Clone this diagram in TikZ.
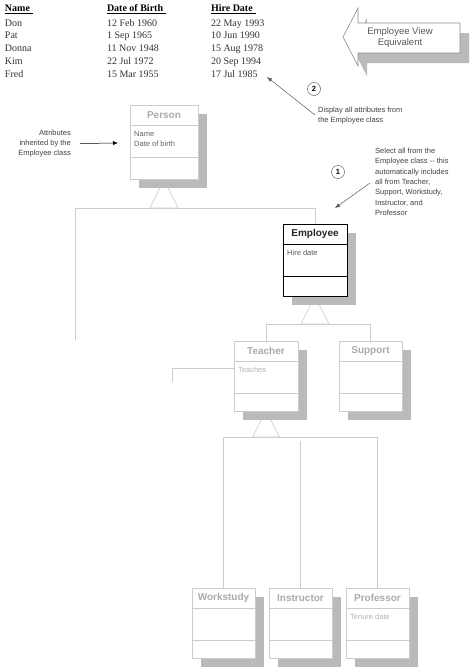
\documentclass[tikz,border=0pt]{standalone}
\usepackage{fontspec}
\setmainfont{Liberation Serif}
\setsansfont{Liberation Sans}
\usetikzlibrary{arrows.meta}
\pgfdeclarelayer{background}
\pgfsetlayers{background,main}

\tikzset{
 tabhead/.style={anchor=base west, inner sep=0pt, outer sep=0pt, font=\fontsize{10}{12}\selectfont\bfseries},
 tabcell/.style={anchor=base west, inner sep=0pt, outer sep=0pt, font=\fontsize{10}{12}\selectfont, text=black!80},
 shadowfill/.style={fill=black!27},
 litebox/.style={draw=black!20, fill=white, line width=0.6pt, inner sep=0pt, outer sep=0pt},
 liteline/.style={draw=black!20, line width=0.6pt},
 litetitle/.style={font=\sffamily\bfseries\fontsize{10}{12}\selectfont, text=black!33, inner sep=0pt},
 liteattr/.style={font=\sffamily\fontsize{7.5}{10}\selectfont, text=black!30, inner sep=0pt, align=left},
 persbox/.style={litebox},
 persline/.style={liteline},
 perstitle/.style={litetitle},
 persattr/.style={liteattr, text=black!62},
 empbox/.style={draw=black, fill=white, line width=0.8pt, inner sep=0pt, outer sep=0pt},
 empline/.style={draw=black, line width=0.8pt},
 emptitle/.style={font=\sffamily\bfseries\fontsize{10}{12}\selectfont, text=black!85, inner sep=0pt},
 empattr/.style={font=\sffamily\fontsize{7.5}{10}\selectfont, text=black!65, inner sep=0pt, align=left},
 inh/.style={draw=black!20, line width=0.6pt},
 note/.style={font=\sffamily\fontsize{7.5}{10.3}\selectfont, text=black!75, inner sep=0pt},
 pointer/.style={draw=black!65, line width=0.5pt, -{Latex[length=5pt,width=4pt]}},
 numcircle/.style={circle, draw=black!60, line width=0.5pt, minimum size=13pt, inner sep=0pt, font=\sffamily\bfseries\fontsize{7.5}{9}\selectfont},
}

% #1 name, #2 x, #3 y, #4 width, #5 height, #6 title, #7 attributes, #8 kind (lite/pers/emp)
\newcommand\umlbox[8]{%
 \fill[shadowfill] (#2+9,#3+9) rectangle (#2+#4+9,#3+#5+9);
 \node[#8box, anchor=north west, minimum width=#4pt, minimum height=#5pt] (#1) at (#2,#3) {};
 \draw[#8line] ([yshift=-20pt]#1.north west) -- ([yshift=-20pt]#1.north east);
 \draw[#8line] ([yshift=-52pt]#1.north west) -- ([yshift=-52pt]#1.north east);
 \node[#8title] (#1-title) at ([yshift=-10pt]#1.north) {#6};
 \node[#8attr, anchor=north west] (#1-attr) at ([xshift=4pt,yshift=-25.7pt]#1.north west) {#7};
}

\begin{document}
\begin{tikzpicture}[x=1pt,y=-1pt]
\useasboundingbox (0,0) rectangle (474,672);

% ---- table ----
\node[tabhead] (hname) at (5,11.6) {Name};
\node[tabhead] (hdob) at (107,11.6) {Date of Birth};
\node[tabhead] (hhire) at (211,11.6) {Hire Date};
\foreach \n in {hname,hdob,hhire}
  \draw[line width=0.6pt] ([yshift=-1.8pt]\n.base west) -- ([xshift=3pt,yshift=-1.8pt]\n.base east);

\node[tabcell] (n1) at (5,26) {Don};
\node[tabcell] (n2) at (5,38.8) {Pat};
\node[tabcell] (n3) at (5,51.6) {Donna};
\node[tabcell] (n4) at (5,64.4) {Kim};
\node[tabcell] (n5) at (5,77.2) {Fred};
\node[tabcell] (d1) at (107,26) {12 Feb 1960};
\node[tabcell] (d2) at (107,38.8) {1 Sep 1965};
\node[tabcell] (d3) at (107,51.6) {11 Nov 1948};
\node[tabcell] (d4) at (107,64.4) {22 Jul 1972};
\node[tabcell] (d5) at (107,77.2) {15 Mar 1955};
\node[tabcell] (h1) at (211,26) {22 May 1993};
\node[tabcell] (h2) at (211,38.8) {10 Jun 1990};
\node[tabcell] (h3) at (211,51.6) {15 Aug 1978};
\node[tabcell] (h4) at (211,64.4) {20 Sep 1994};
\node[tabcell] (h5) at (211,77.2) {17 Jul 1985};

% ---- big arrow ----
\begin{scope}[shift={(9,10)}]
 \fill[shadowfill] (343,37) -- (358,8) -- (358,23) -- (460,23) -- (460,53) -- (358,53) -- (358,66) -- cycle;
\end{scope}
\draw[draw=black!45, fill=white, line width=0.6pt] (343,37) -- (358,8) -- (358,23) -- (460,23) -- (460,53) -- (358,53) -- (358,66) -- cycle;
\node[font=\sffamily\fontsize{9.5}{11}\selectfont, text=black!65, align=center, inner sep=0pt] (evtext) at (400,37.5) {Employee View\\Equivalent};

% ---- classes ----
\umlbox{Person}{130}{105}{68}{74}{Person}{Name\\Date of birth}{pers}
\umlbox{Employee}{283}{224}{64}{72}{Employee}{Hire date}{emp}
\umlbox{Teacher}{234}{341}{64}{70}{Teacher}{Teaches}{lite}
\umlbox{Support}{339}{341}{63}{70}{Support}{}{lite}
\umlbox{Workstudy}{192}{588}{63}{70}{Workstudy}{}{lite}
\umlbox{Instructor}{269}{588}{63}{70}{Instructor}{}{lite}
\umlbox{Professor}{346}{588}{63}{70}{Professor}{Tenure date}{lite}

% ---- inheritance lines ----
\begin{pgfonlayer}{background}
 \coordinate (lineL) at (75,208);
 \coordinate (lineLend) at (75,340);
 \draw[inh] (lineLend) -- (lineL) -- (Employee.north |- lineL) -- (Employee.north);
 \draw[inh, fill=white] (Person.south) -- ++(-14,29) -- ++(28,0) -- cycle;

 \coordinate (ebase) at ([yshift=-28pt]Employee.south);
 \draw[inh] (Teacher.north) -- (Teacher.north |- ebase) -- (Support.north |- ebase) -- (Support.north);
 \draw[inh, fill=white] (Employee.south) -- ++(-14,28) -- ++(28,0) -- cycle;

 \coordinate (tbase) at ([yshift=-26pt]Teacher.south);
 \coordinate (imid) at ([yshift=-4pt]tbase);
 \draw[inh] (Workstudy.north) -- (Workstudy.north |- tbase) -- (Professor.north |- tbase) -- (Professor.north);
 \draw[inh] (Instructor.north) -- (Instructor.north |- imid);
 \draw[inh, fill=white] (Teacher.south) -- ++(-13.5,26) -- ++(27,0) -- cycle;

 \coordinate (stubA) at (172,382);
 \coordinate (stubB) at (172,368);
 \draw[inh] (stubA) -- (stubB) -- (stubB -| Teacher.west);
\end{pgfonlayer}

% ---- notes ----
\node[note, align=right, anchor=north east] (inhnote) at (71,129.5) {Attributes\\inherited by the\\Employee class};
\coordinate (inhtip) at (118,143);
\draw[pointer, draw=black] ([xshift=9pt]inhnote.east) -- (inhtip);

\node[numcircle] (c2) at (314,89) {2};
\node[note, align=left, anchor=north west] (dispnote) at (318,107) {Display all attributes from\\the Employee class};
\coordinate (d2start) at (315,115);
\coordinate (d2tip) at (267,77);
\draw[pointer] (d2start) -- (d2tip);

\node[numcircle] (c1) at (338,172) {1};
\node[note, align=left, anchor=north west] (selnote) at (375,148) {Select all from the\\Employee class -{}- this\\automatically includes\\all from Teacher,\\Support, Workstudy,\\Instructor, and\\Professor};
\coordinate (s1start) at (370,183);
\coordinate (s1tip) at (335,208);
\draw[pointer] (s1start) -- (s1tip);
\end{tikzpicture}
\end{document}
